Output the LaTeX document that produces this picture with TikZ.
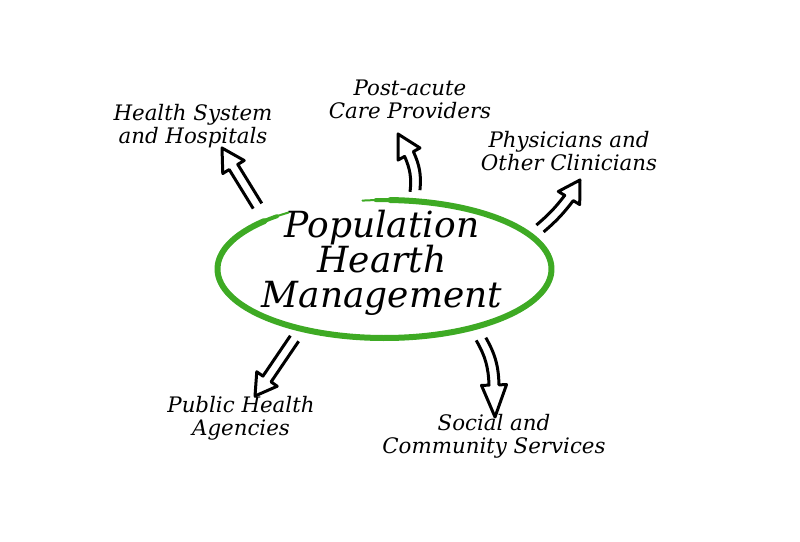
\documentclass[tikz,border=0pt]{standalone}
\usepackage{fontspec}
\newfontfamily\handfont{DejaVu Serif}
\usetikzlibrary{calc}
\definecolor{ringgreen}{RGB}{62,170,36}

% hollow arrow: [bend] tail, head base, tip
\newcommand{\shaftw}{3.75pt}
\newcommand{\headw}{9.4pt}
\newcommand{\hollowarrow}[4][0]{%
  \draw[arrowline] ($(#2)!\shaftw!90:(#3)$) to[bend right=#1] ($(#3)!\shaftw!90:(#4)$)
    -- ($(#3)!\headw!90:(#4)$) -- (#4) -- ($(#3)!\headw!-90:(#4)$)
    -- ($(#3)!\shaftw!-90:(#4)$) to[bend left=#1] ($(#2)!\shaftw!-90:(#3)$);}

\begin{document}
\begin{tikzpicture}[x=0.75pt, y=0.75pt,
    arrowline/.style={black, line width=2.25pt, line join=round},
    label/.style={font=\handfont\itshape\fontsize{16}{17.25}\selectfont, align=center, anchor=base, inner sep=0pt},
    title/.style={font=\handfont\itshape\fontsize{27}{26.25}\selectfont, align=center, anchor=base, inner sep=0pt}]
    \useasboundingbox (0,0) rectangle (800,-542);

    % centre text and green ring (thin at both ends)
    \node[title] (phm) at (382,-307) {Population\\Hearth\\Management};
    \coordinate (ring) at (384.5,-269);
    \foreach \a/\b/\w in {125/130/1.5pt, 130/136/3pt, 136/448/4.5pt, 448/453/3pt, 453/457.6/1.5pt}
        \draw[ringgreen, line width=\w, line cap=round]
            ([shift={(\a:167 and 69)}]ring) arc[start angle=\a, end angle=\b, x radius=167, y radius=69];

    % the five labels (placed by last baseline)
    \node[label] (hs) at (193,-143) {Health System\\and Hospitals};
    \node[label] (pac) at (410,-118) {Post-acute\\Care Providers};
    \node[label] (phys) at (569,-171) {Physicians and\\Other Clinicians};
    \node[label] (pub) at (241,-435) {Public Health\\Agencies};
    \node[label] (soc) at (494,-453) {Social and\\Community Services};

    % arrow ends
    \coordinate (hs-t) at (257.5,-206);
    \coordinate (hs-b) at (233.5,-167);
    \coordinate (hs-p) at (222,-148);
    \coordinate (pac-t) at (415,-191);
    \coordinate (pac-b) at (409,-154);
    \coordinate (pac-p) at (398,-134);
    \coordinate (phys-t) at (540,-228.5);
    \coordinate (phys-b) at (569,-198);
    \coordinate (phys-p) at (580,-180);
    \coordinate (pub-t) at (294.5,-338.5);
    \coordinate (pub-b) at (267,-379);
    \coordinate (pub-p) at (255,-396);
    \coordinate (soc-t) at (481,-339);
    \coordinate (soc-b) at (494,-385);
    \coordinate (soc-p) at (495,-417);

    % hollow arrows out of the ring
    \hollowarrow{hs-t}{hs-b}{hs-p}
    \hollowarrow[15]{pac-t}{pac-b}{pac-p}
    \hollowarrow[6]{phys-t}{phys-b}{phys-p}
    \hollowarrow{pub-t}{pub-b}{pub-p}
    \hollowarrow[-14]{soc-t}{soc-b}{soc-p}
\end{tikzpicture}
\end{document}
